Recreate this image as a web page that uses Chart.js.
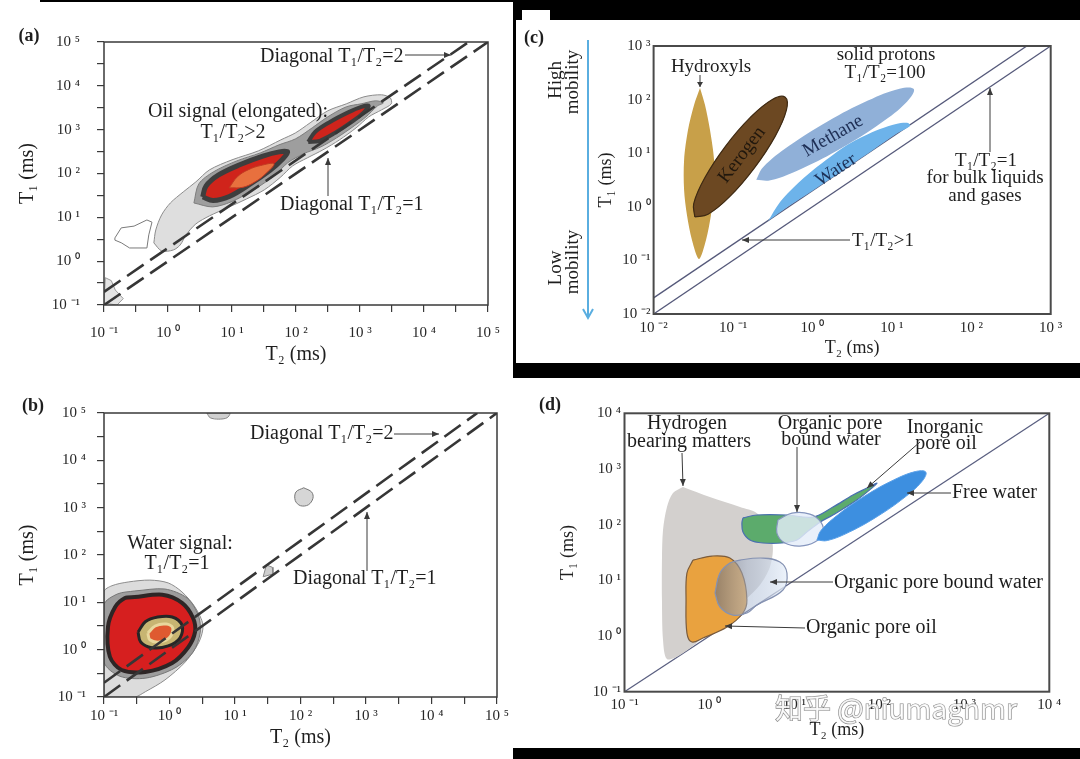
<!DOCTYPE html>
<html>
<head>
<meta charset="utf-8">
<script src="https://cdn.jsdelivr.net/npm/chart.js@4.4.1/dist/chart.umd.min.js"></script>
<style>
  body { margin: 0; width: 1080px; height: 759px; background: #fff; position: relative; overflow: hidden; }
  .bar { position: absolute; background: #000; }
</style>
</head>
<body>
<div class="bar" style="left:40px;top:0;width:480px;height:2px"></div>
<div class="bar" style="left:513px;top:0;width:567px;height:20px"></div>
<div style="position:absolute;left:522px;top:10px;width:28px;height:10px;background:#fff"></div>
<div class="bar" style="left:513px;top:0;width:3px;height:378px"></div>
<div class="bar" style="left:513px;top:363px;width:567px;height:15px"></div>
<div class="bar" style="left:513px;top:748px;width:567px;height:11px"></div>

<script>
const SERIF = '"Liberation Serif", "Times New Roman", serif';

// ---- tick labels (all axes are log10, ms) ----
const decA = [0.1, 1, 10, 100, 1000, 10000, 100000];
const labA = ["10 ⁻¹", "10 ⁰", "10 ¹", "10 ²", "10 ³", "10 ⁴", "10 ⁵"];
const decC = [0.01, 0.1, 1, 10, 100, 1000];
const labC = ["10 ⁻²", "10 ⁻¹", "10 ⁰", "10 ¹", "10 ²", "10 ³"];
const decD = [0.1, 1, 10, 100, 1000, 10000];
const labD = ["10 ⁻¹", "10 ⁰", "10 ¹", "10 ²", "10 ³", "10 ⁴"];

// ---- panel (a): oil signal, [T2, T1] in ms ----
const aOuter = [[0.601,2.61],[0.644,5.15],[0.796,11.4],[1.09,21.3],[1.73,38.0],[2.72,64.3],[4.45,121],[10.0,205],[25.8,328],[57.9,585],[98.2,845],[166,1430],[313,2690],[611,3880],[1150,5610],[2170,6240],[2970,5320],[3080,3880],[2170,2830],[1370,1960],[869,1100],[478,585],[263,346],[150,227],[88.5,149],[57.9,83.6],[31.9,42.3],[16.9,26.3],[8.39,16.4],[4.45,10.8],[2.72,7.06],[1.91,3.96],[1.55,2.34],[1.21,1.80],[0.796,1.71]];
const aIsland = [[0.148,3.39],[0.186,5.75],[0.295,6.31],[0.468,8.71],[0.562,7.76],[0.501,3.98],[0.468,2.00],[0.251,2.00],[0.186,2.63],[0.148,3.02]];
const aCorner = [[0.1,0.11],[0.105,0.42],[0.13,0.36],[0.15,0.22],[0.2,0.14],[0.16,0.1]];
const aMid = [[2.54,21.3],[3.03,57.9],[5.13,109],[11.9,194],[27.7,295],[54.1,450],[98.2,617],[179,1100],[313,1960],[611,3320],[1040,3880],[1750,4550],[2320,4090],[1880,3490],[1240,1960],[809,1220],[431,650],[245,405],[130,280],[74.1,175],[45.3,88.1],[21.7,42.3],[9.66,22.5],[4.95,17.3]];
const aRedLow = [[3.48,29.2],[3.91,51.3],[6.18,92.5],[13.5,160],[30.3,249],[54.5,311],[74.1,311],[61.8,213],[39.4,118],[19.1,57.0],[9.10,30.0],[5.07,24.3]];
const aCore = [[9.00,46.9],[12.2,84.9],[18.0,122],[27.9,152],[45.3,166],[32.8,95.9],[22.6,63.7],[14.9,48.6]];
const aRedHigh = [[155,526],[197,877],[334,1480],[653,2480],[1050,3320],[1370,3490],[1160,2520],[780,1580],[412,855],[235,558]];

// ---- panel (b): water signal ----
const bOuter = [[0.1,0.1],[0.1,16.6],[0.132,22.4],[0.234,26.9],[0.501,29.5],[0.955,25.7],[1.55,16.6],[2.45,7.94],[3.24,3.31],[2.82,1.45],[1.74,0.550],[0.851,0.229],[0.427,0.129],[0.295,0.1]];
const bMid = [[0.295,17.4],[0.851,19.1],[1.86,12.3],[2.75,5.37],[2.95,2.34],[2.29,0.891],[1.20,0.407],[0.437,0.251],[0.174,0.275],[0.1,0.550],[0.1,8.91],[0.162,15.1]];
const bRed = [[0.295,12.9],[0.776,14.5],[1.55,9.77],[2.29,4.68],[2.45,2.34],[1.91,1.10],[1.10,0.525],[0.427,0.339],[0.186,0.372],[0.123,0.708],[0.115,3.02],[0.148,7.94],[0.209,12.3]];
const bRing = [[0.331,2.34],[0.427,3.89],[0.661,4.90],[1.10,4.90],[1.55,3.31],[1.45,1.78],[0.955,1.20],[0.537,1.10],[0.363,1.45]];
const bCore = [[0.468,2.24],[0.603,3.16],[0.891,3.47],[1.12,2.88],[1.02,1.86],[0.708,1.45],[0.501,1.62]];
const bSpot = [[112,2630],[148,2140],[155,1580],[132,1150],[100,1100],[83.2,1410],[85.1,2140]];
const bTop = [[3.72,100000],[4.17,79400],[5.62,74100],[7.59,79400],[8.32,100000]];
const bSpeck = [[26.9,34.7],[30.2,61.7],[37.2,55.0],[38.0,39.8]];

// ratio lines for (a) and (b)
const abRatio1 = [[0.1,0.1],[100000,100000]];
const abRatio2 = [[0.1,0.2],[50000,100000]];

// ---- panel (c): fluid types ----
const hydroxyls = [[0.0384,164],[0.0444,79],[0.0513,27],[0.0577,7.5],[0.0577,2.06],[0.0528,0.70],[0.0457,0.24],[0.0373,0.106],[0.0304,0.24],[0.0263,0.70],[0.0242,2.06],[0.0242,7.5],[0.0271,27],[0.0323,79]];
const kerogen = [[0.0330,0.648],[0.0320,1.15],[0.0443,3.51],[0.0807,13.6],[0.164,46.1],[0.309,99.5],[0.454,111],[0.469,62.7],[0.339,20.6],[0.186,5.32],[0.0915,1.56],[0.0485,0.724]];
const methane = [[0.196,3.18],[0.239,5.46],[0.509,13.7],[1.55,39.0],[5.00,96.1],[12.5,160],[18.9,157],[15.5,91.4],[7.29,36.5],[2.39,12.8],[0.741,5.19],[0.296,3.12]];
const water = [[0.276,0.543],[0.391,1.23],[0.604,2.44],[1.02,4.86],[1.67,8.49],[2.73,14.2],[4.47,20.9],[7.10,28.3],[11.3,35.1],[16.0,36.6],[16.9,32.1],[11.3,22.8],[5.79,11.5],[3.16,6.29],[1.67,3.30],[0.830,1.66],[0.465,0.951],[0.338,0.673]];
const cRatio1 = [[0.01,0.01],[1000,1000]];
const cRatio2 = [[0.01,0.02],[500,1000]];

// ---- panel (d): shale pore fluids ----
const hydrogenMatter = [[0.488,473],[1.01,313],[2.29,207],[3.62,161],[4.88,90.6],[5.58,39.6],[5.15,17.3],[3.93,8.24],[2.62,4.43],[1.33,1.94],[0.773,0.847],[0.450,0.456],[0.316,0.386],[0.284,0.847],[0.276,4.43],[0.276,23.1],[0.284,80.0],[0.316,207],[0.372,369]];
const organicOil = [[0.640,23.1],[1.07,27.3],[1.74,25.1],[2.41,13.5],[2.76,4.43],[2.48,2.59],[1.61,1.45],[0.839,0.920],[0.622,0.780],[0.543,1.13],[0.530,4.43],[0.543,13.5]];
const boundWaterLow = [[1.16,5.92],[1.33,13.5],[1.74,20.4],[2.29,23.1],[4.26,25.1],[6.75,21.3],[8.17,13.5],[7.33,6.70],[3.62,3.60],[2.76,2.59],[1.89,2.38],[1.33,3.32]];
const boundWaterHigh = [[6.40,121],[9.35,161],[15.2,155],[20.5,111],[21.6,70.6],[17.4,48.8],[11.6,41.3],[7.73,46.8],[6.22,70.6]];
const inorganicOil = [[2.48,132],[3.62,149],[8.17,149],[16.5,137],[28.4,207],[48.8,340],[71.3,454],[93.5,558],[84.0,473],[54.3,277],[28.4,149],[20.0,111],[14.0,73.6],[10.7,53.0],[7.13,46.8],[4.26,46.8],[2.99,53.0],[2.48,73.6],[2.41,107]];
const freeWater = [[18.4,53.0],[20.6,79.1],[33.2,154],[67.8,329],[145,627],[264,897],[352,879],[315,589],[195,303],[95.7,142],[44.8,74.3],[24.5,51.9]];
const dRatio1 = [[0.1,0.1],[10000,10000]];

// ---------------------------------------------------------------
function layer(pts, s) {
  const data = pts.map(p => ({ x: p[0], y: p[1] }));
  if (!s.open) data.push({ x: pts[0][0], y: pts[0][1] });
  return {
    data: data,
    pointRadius: 0,
    pointHoverRadius: 0,
    fill: s.bg ? "shape" : false,
    backgroundColor: s.bg || "rgba(0,0,0,0)",
    borderColor: s.line || "rgba(0,0,0,0)",
    borderWidth: s.lw || 1,
    borderDash: s.dash || [],
    borderJoinStyle: "round",
    tension: s.tension || 0,
  };
}

function logAxis(dec, lab, o) {
  const vals = [];
  dec.forEach((d, i) => {
    vals.push(d);
    if (o.minor && i < dec.length - 1) vals.push(Math.sqrt(d * dec[i + 1]));
  });
  return {
    type: "logarithmic",
    min: dec[0],
    max: dec[dec.length - 1],
    afterBuildTicks: s => { s.ticks = vals.map(v => ({ value: v })); },
    afterFit: s => { if (o.horizontal) s.height = o.size; else s.width = o.size; },
    ticks: {
      autoSkip: false, maxRotation: 0, minRotation: 0,
      padding: o.pad, color: "#262626",
      font: { family: SERIF, size: o.font },
      callback: v => { const k = dec.indexOf(v); return k < 0 ? "" : lab[k]; },
    },
    grid: { drawOnChartArea: false, drawTicks: o.tick > 0, tickLength: o.tick, color: "#3a3a3a", lineWidth: 1.2 },
    border: { display: false },
    title: { display: true, text: o.title, color: "#1f1f1f", font: { family: SERIF, size: o.titleSize }, padding: 0 },
  };
}

function drawLabel(ctx, n) {
  ctx.save();
  ctx.translate(n.x, n.y);
  if (n.rot) ctx.rotate(n.rot * Math.PI / 180);
  ctx.font = n.font || ((n.bold ? "bold " : "") + (n.size || 20) + "px " + SERIF);
  ctx.textAlign = n.align || "center";
  ctx.textBaseline = "middle";
  if (n.stroke) {
    ctx.lineWidth = 1.2;
    ctx.strokeStyle = n.stroke;
    ctx.strokeText(n.text, 0, 0);
  }
  ctx.fillStyle = n.color || "#1e1e1e";
  ctx.fillText(n.text, 0, 0);
  ctx.restore();
}

function drawArrow(ctx, n) {
  const [x1, y1] = n.from, [x2, y2] = n.to;
  const ang = Math.atan2(y2 - y1, x2 - x1);
  const L = n.head || 7, W = n.open ? 5 : 3;
  ctx.save();
  ctx.strokeStyle = ctx.fillStyle = n.color || "#3a3a3a";
  ctx.lineWidth = n.width || 1;
  ctx.beginPath();
  ctx.moveTo(x1, y1);
  ctx.lineTo(x2, y2);
  ctx.stroke();
  const bx = x2 - L * Math.cos(ang), by = y2 - L * Math.sin(ang);
  ctx.beginPath();
  ctx.moveTo(bx + W * Math.sin(ang), by - W * Math.cos(ang));
  ctx.lineTo(x2, y2);
  ctx.lineTo(bx - W * Math.sin(ang), by + W * Math.cos(ang));
  if (n.open) ctx.stroke(); else { ctx.closePath(); ctx.fill(); }
  ctx.restore();
}

function buildPanel(p) {
  const box = p.box, area = p.area;
  const lh = p.titleSize * 1.2;
  const padL = p.yTitleX - box.x - lh / 2;
  const yW = area.l - box.x - padL;
  const padB = box.y + box.h - p.xTitleY - lh / 2;
  const xH = box.y + box.h - padB - area.b;

  const holder = document.createElement("div");
  holder.style.cssText = "position:absolute;left:" + box.x + "px;top:" + box.y + "px;width:" + box.w + "px;height:" + box.h + "px";
  const cv = document.createElement("canvas");
  holder.appendChild(cv);
  document.body.appendChild(holder);

  const overlay = {
    id: "overlay",
    afterDraw(chart) {
      const ctx = chart.ctx, a = chart.chartArea;
      ctx.save();
      ctx.strokeStyle = p.frame[0];
      ctx.lineWidth = p.frame[1];
      ctx.strokeRect(a.left, a.top, a.right - a.left, a.bottom - a.top);
      ctx.translate(-box.x, -box.y);
      p.notes.forEach(n => (n.to ? drawArrow(ctx, n) : drawLabel(ctx, n)));
      ctx.restore();
    },
  };

  return new Chart(cv.getContext("2d"), {
    type: "line",
    data: { datasets: p.layers.map((d, i) => Object.assign(d, { order: -i })) },
    options: {
      responsive: true,
      maintainAspectRatio: false,
      animation: false,
      events: [],
      layout: { padding: { left: padL, top: area.t - box.y, right: box.x + box.w - area.r, bottom: padB } },
      plugins: { legend: { display: false }, tooltip: { enabled: false } },
      scales: {
        x: logAxis(p.dec, p.lab, { horizontal: true, size: xH, pad: p.xPad, tick: p.tick, minor: p.minor, font: 15, title: "T₂ (ms)", titleSize: p.titleSize }),
        y: logAxis(p.dec, p.lab, { horizontal: false, size: yW, pad: p.yPad, tick: p.tick, minor: p.minor, font: 15, title: "T₁ (ms)", titleSize: p.titleSize }),
      },
    },
    plugins: [overlay],
  });
}

const dashStyle = { line: "#363636", lw: 2.6, dash: [20, 8], open: true };

// (a)
buildPanel({
  box: { x: 0, y: 0, w: 512, h: 378 },
  area: { l: 104, t: 42, r: 497, b: 305 },
  yTitleX: 28, xTitleY: 355, titleSize: 20,
  dec: decA, lab: labA, minor: true, tick: 7, xPad: 12, yPad: 17,
  frame: ["#3a3a3a", 1.5],
  layers: [
    layer(aOuter, { bg: "#dedede", line: "#8c8c8c", lw: 1, tension: 0.3 }),
    layer(aIsland, { line: "#7a7a7a", lw: 1 }),
    layer(aCorner, { bg: "#e4e4e4", line: "#9a9a9a", lw: 1 }),
    layer(aMid, { bg: "#9e9e9e", line: "#7e7e7e", lw: 1, tension: 0.3 }),
    layer(aRedLow, { bg: "#d0241b", line: "#3e3e3e", lw: 5, tension: 0.35 }),
    layer(aCore, { bg: "#e8703e", line: "#c23a22", lw: 1, tension: 0.4 }),
    layer(aRedHigh, { bg: "#cf241c", line: "#3e3e3e", lw: 4, tension: 0.35 }),
    layer(abRatio1, dashStyle),
    layer(abRatio2, dashStyle),
  ],
  notes: [
    { text: "(a)", x: 29, y: 36, size: 18, bold: true },
    { text: "Diagonal T₁/T₂=2", x: 260, y: 57, align: "left" },
    { from: [405, 55], to: [451, 55] },
    { text: "Oil signal (elongated):", x: 238, y: 112 },
    { text: "T₁/T₂>2", x: 233, y: 133 },
    { text: "Diagonal T₁/T₂=1", x: 280, y: 205, align: "left" },
    { from: [328, 196], to: [328, 158] },
  ],
});

// (b)
buildPanel({
  box: { x: 0, y: 380, w: 512, h: 379 },
  area: { l: 104, t: 413, r: 497, b: 697 },
  yTitleX: 28, xTitleY: 738, titleSize: 20,
  dec: decA, lab: labA, minor: true, tick: 7, xPad: 3, yPad: 11,
  frame: ["#3a3a3a", 1.5],
  layers: [
    layer(bOuter, { bg: "#dcdcdc", line: "#8c8c8c", lw: 1, tension: 0.3 }),
    layer(bMid, { bg: "#9d9d9d", line: "#777", lw: 1, tension: 0.3 }),
    layer(bRed, { bg: "#d61f1f", line: "#2e2626", lw: 4, tension: 0.3 }),
    layer(bRing, { bg: "#c7b572", line: "#262626", lw: 3, tension: 0.35 }),
    layer(bCore, { bg: "#df5a30", line: "#e8d79c", lw: 3, tension: 0.35 }),
    layer(bSpot, { bg: "#d6d6d6", line: "#777", lw: 1, tension: 0.35 }),
    layer(bTop, { bg: "#d0d0d0", line: "#888", lw: 1, tension: 0.3 }),
    layer(bSpeck, { bg: "#cfcfcf", line: "#888", lw: 1 }),
    layer(abRatio1, dashStyle),
    layer(abRatio2, dashStyle),
  ],
  notes: [
    { text: "(b)", x: 33, y: 406, size: 18, bold: true },
    { text: "Diagonal T₁/T₂=2", x: 250, y: 434, align: "left" },
    { from: [394, 434], to: [439, 434] },
    { text: "Water signal:", x: 180, y: 544 },
    { text: "T₁/T₂=1", x: 177, y: 564 },
    { text: "Diagonal T₁/T₂=1", x: 293, y: 579, align: "left" },
    { from: [367, 571], to: [367, 512] },
  ],
});

// (c)
buildPanel({
  box: { x: 516, y: 20, w: 564, h: 343 },
  area: { l: 653.6, t: 46, r: 1050.7, b: 314 },
  yTitleX: 606, xTitleY: 348, titleSize: 18,
  dec: decC, lab: labC, minor: false, tick: 0, xPad: 5, yPad: 3,
  frame: ["#4a4a4a", 2],
  layers: [
    layer(cRatio1, { line: "#55597a", lw: 1.3, open: true }),
    layer(cRatio2, { line: "#55597a", lw: 1.3, open: true }),
    layer(hydroxyls, { bg: "#c8a049", tension: 0.3 }),
    layer(kerogen, { bg: "#6c4822", line: "#3f2a13", lw: 1.2, tension: 0.4 }),
    layer(methane, { bg: "#90b0d8", tension: 0.4 }),
    layer(water, { bg: "#6db3ea", tension: 0.3 }),
  ],
  notes: [
    { text: "(c)", x: 534, y: 38, size: 18, bold: true },
    { from: [588, 40], to: [588, 318], color: "#5aaee0", width: 2, open: true, head: 9 },
    { text: "High", x: 556, y: 80, rot: -90, size: 19 },
    { text: "mobility", x: 573, y: 82, rot: -90, size: 19 },
    { text: "Low", x: 556, y: 268, rot: -90, size: 19 },
    { text: "mobility", x: 573, y: 262, rot: -90, size: 19 },
    { text: "Hydroxyls", x: 711, y: 67, size: 19 },
    { from: [700, 75], to: [700, 87], head: 5 },
    { text: "solid protons", x: 886, y: 55, size: 19 },
    { text: "T₁/T₂=100", x: 885, y: 73, size: 19 },
    { text: "T₁/T₂=1", x: 986, y: 161, size: 19 },
    { text: "for bulk liquids", x: 985, y: 178, size: 19 },
    { text: "and gases", x: 985, y: 196, size: 19 },
    { from: [990, 152], to: [990, 88] },
    { text: "T₁/T₂>1", x: 852, y: 241, size: 19, align: "left" },
    { from: [850, 240], to: [742, 240] },
    { text: "Kerogen", x: 742, y: 155, rot: -53, size: 19, color: "#20170d" },
    { text: "Methane", x: 833, y: 136, rot: -30, size: 19, color: "#1e2f55" },
    { text: "Water", x: 836, y: 170, rot: -33, size: 19, color: "#1c3158" },
  ],
});

// (d)
const boundGradient = c => {
  const ch = c.chart;
  if (!ch.chartArea) return "rgba(210,222,238,0.6)";
  const x = ch.scales.x;
  const g = ch.ctx.createLinearGradient(x.getPixelForValue(1.2), 0, x.getPixelForValue(8), 0);
  g.addColorStop(0, "rgba(105,112,130,0.62)");
  g.addColorStop(0.45, "rgba(170,185,210,0.5)");
  g.addColorStop(1, "rgba(232,240,250,0.8)");
  return g;
};

buildPanel({
  box: { x: 516, y: 380, w: 564, h: 368 },
  area: { l: 624.5, t: 413.3, r: 1049.3, b: 691.7 },
  yTitleX: 568, xTitleY: 730, titleSize: 18,
  dec: decD, lab: labD, minor: false, tick: 0, xPad: 4, yPad: 3.5,
  frame: ["#4a4a4a", 2],
  layers: [
    layer(dRatio1, { line: "#5a5f80", lw: 1.3, open: true }),
    layer(hydrogenMatter, { bg: "#d3d0ce", tension: 0.3 }),
    layer(organicOil, { bg: "#e9a23f", line: "#7b5c3d", lw: 1.2, tension: 0.35 }),
    layer(boundWaterLow, { bg: boundGradient, line: "#8592b2", lw: 1.2, tension: 0.4 }),
    layer(inorganicOil, { bg: "#5cab6c", line: "#4a6fb0", lw: 1.2, tension: 0.35 }),
    layer(boundWaterHigh, { bg: "rgba(228,237,249,0.82)", line: "#8595bd", lw: 1.2, tension: 0.4 }),
    layer(freeWater, { bg: "#3d8fe0", line: "#5aa0e8", lw: 1, tension: 0.4 }),
  ],
  notes: [
    { text: "(d)", x: 550, y: 405, size: 18, bold: true },
    { text: "Hydrogen", x: 687, y: 424 },
    { text: "bearing matters", x: 689, y: 442 },
    { from: [682, 453], to: [683, 486] },
    { text: "Organic pore", x: 830, y: 424 },
    { text: "bound water", x: 831, y: 440 },
    { from: [797, 447], to: [797, 512] },
    { text: "Inorganic", x: 945, y: 428 },
    { text: "pore oil", x: 946, y: 444 },
    { from: [920, 442], to: [867, 488] },
    { text: "Free water", x: 952, y: 493, align: "left" },
    { from: [951, 493], to: [907, 493] },
    { text: "Organic pore bound water", x: 834, y: 583, align: "left" },
    { from: [833, 582], to: [770, 582] },
    { text: "Organic pore oil", x: 806, y: 628, align: "left" },
    { from: [805, 628], to: [725, 626] },
    { text: "知乎 @niumagnmr", x: 775, y: 708, align: "left", font: '28px "Noto Sans CJK SC", sans-serif', color: "rgba(255,255,255,0.82)", stroke: "rgba(105,105,105,0.8)" },
  ],
});
</script>
</body>
</html>
